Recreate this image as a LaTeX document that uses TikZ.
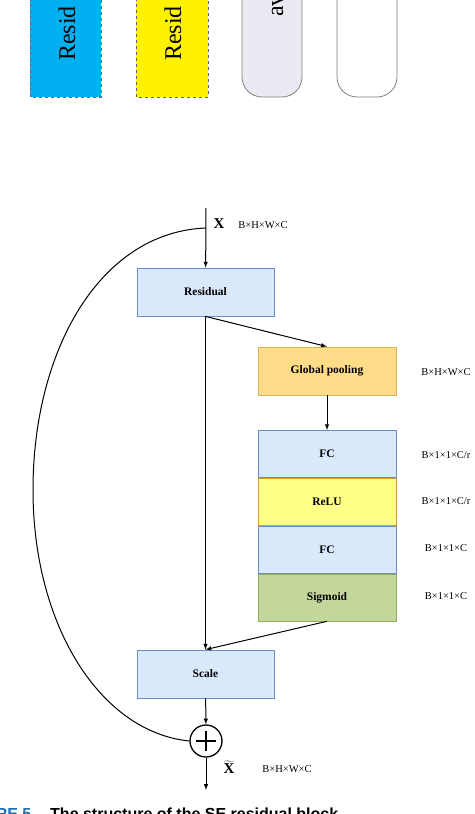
\documentclass[tikz,border=0pt]{standalone}
\usepackage{fontspec}
\setmainfont{Liberation Serif}
\newfontfamily\capfont{Liberation Sans}
\usetikzlibrary{positioning}
\definecolor{boxblue}{HTML}{DAE8FC}
\definecolor{lineblue}{HTML}{6C8EBF}
\definecolor{poolfill}{HTML}{FFDC87}
\definecolor{poolline}{HTML}{D6B656}
\definecolor{relufill}{HTML}{FFFF88}
\definecolor{reluline}{HTML}{E09A30}
\definecolor{sigfill}{HTML}{C4D79B}
\definecolor{sigline}{HTML}{8FAF5F}
\definecolor{tabcyan}{HTML}{00B0F0}
\definecolor{tablav}{HTML}{EBE9F1}
\definecolor{dashgray}{HTML}{5A6470}
\definecolor{capblue}{HTML}{1F6FB2}

\begin{document}
\begin{tikzpicture}[
        x=1pt, y=-1pt, % pixel grid, y downwards
        block/.style={draw=lineblue, fill=boxblue, line width=0.8pt, minimum width=137pt, minimum height=48pt,
                font=\fontsize{11.5}{13}\selectfont\bfseries},
        dims/.style={font=\fontsize{10.5}{12}\selectfont},
        flow/.style={draw, -latex, line width=1pt},
        tab/.style={draw=dashgray, dashed, line width=0.8pt},
        pill/.style={draw=gray, line width=0.8pt, rounded corners=20pt},
        vlabel/.style={rotate=90, anchor=base west, inner sep=0pt, font=\fontsize{24}{26}\selectfont},
        caption/.style={inner sep=0pt, font=\capfont\bfseries\fontsize{16}{18}\selectfont},
    ]
    \useasboundingbox (0,0) rectangle (474,814);
    \clip (0,0) rectangle (474,814);

    % cut-off figure above
    \draw[tab, fill=tabcyan] (30,-20) rectangle (101,97);
    \node[vlabel] (resa) at (75,61) {Resid};
    \draw[tab, fill=yellow] (136,-20) rectangle (208,97);
    \node[vlabel] (resb) at (181,61) {Resid};
    \draw[pill, fill=tablav] (242,-40) rectangle (302,97);
    \node[vlabel] (avg) at (283,17) {av};
    \draw[pill, fill=white] (337,-40) rectangle (397,97);

    % SE residual block
    \coordinate (in) at (206,208);
    \coordinate (split) at (206,228);
    \node[block] (res) at (205.5,292) {Residual};
    \node[block, fill=poolfill, draw=poolline, minimum width=138pt] (pool) at (327,371) {Global pooling};
    \node[block, minimum width=138pt, minimum height=47pt] (fca) at (327,454) {FC};
    \node[block, minimum width=138pt, minimum height=47pt, fill=relufill, draw=reluline, below=0pt of fca] (relu) {ReLU};
    \node[block, minimum width=138pt, minimum height=47pt, below=0pt of relu] (fcb) {FC};
    \node[block, minimum width=138pt, minimum height=47pt, fill=sigfill, draw=sigline, below=0pt of fcb] (sig) {Sigmoid};
    \node[block] (scale) at (205.5,674) {Scale};
    \node[circle, draw, line width=1.3pt, minimum size=32pt, inner sep=0pt,
        path picture={\draw[line width=1.5pt]
                    ([xshift=-10pt]path picture bounding box.center) -- ([xshift=10pt]path picture bounding box.center)
                    ([yshift=-10pt]path picture bounding box.center) -- ([yshift=10pt]path picture bounding box.center);}]
        (add) at (206,741) {};
    \coordinate (out) at (206,790);

    % sizes
    \node[font=\fontsize{15}{17}\selectfont\bfseries] (xin) at (219,224) {X};
    \node[dims] (dimin) at (263,225) {B×H×W×C};
    \node[dims] (dimpool) at (446,372) {B×H×W×C};
    \node[dims] (dimfca) at (446,455) {B×1×1×C/r};
    \node[dims] (dimrelu) at (446,501) {B×1×1×C/r};
    \node[dims] (dimfcb) at (446,548) {B×1×1×C};
    \node[dims] (dimsig) at (446,596) {B×1×1×C};
    \node[font=\fontsize{15}{17}\selectfont\bfseries, inner sep=0pt] (xout) at (229,767) {$\widetilde{\mbox{X}}$};
    \node[dims] (dimout) at (287,769) {B×H×W×C};

    % connectors
    \draw[flow] (in) -- (res);
    \draw[flow] (res.south) -- (scale.north);
    \draw[flow] (res.south) -- (pool.north);
    \draw[flow] (pool) -- (fca);
    \draw[flow] (sig.south) -- (scale.north);
    \draw[flow] (scale) -- (add);
    \draw[flow] (add) -- (out);
    \draw[line width=1pt] (split) .. controls (100,232) and (33,350) .. (33,490)
        .. controls (33,625) and (100,732) .. (add.west);

    % caption, cut by the frame
    \node[caption, anchor=base east] (figno) at (36,819) {\color{capblue}RE 5.};
    \node[caption, anchor=base west] (captext) at (50,819) {The structure of the SE residual block};
\end{tikzpicture}
\end{document}
